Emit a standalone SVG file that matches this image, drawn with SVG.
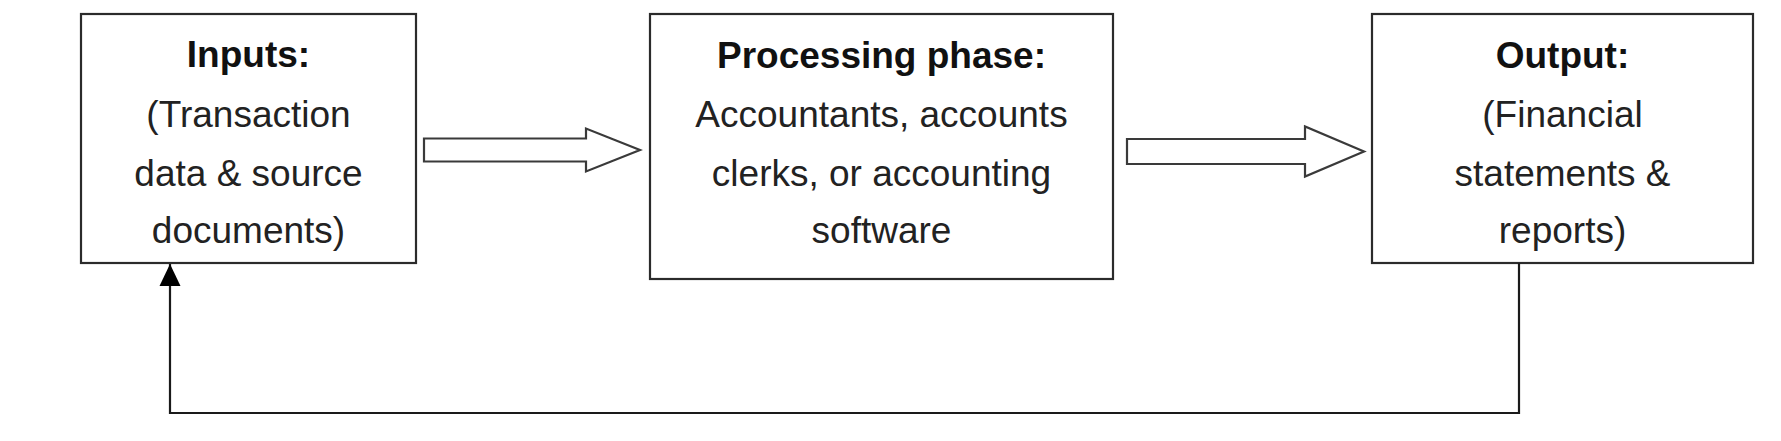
<svg xmlns="http://www.w3.org/2000/svg" width="1781" height="441" viewBox="0 0 1781 441">
  <style>
    .box { fill: #ffffff; stroke: #2b2b2b; stroke-width: 2.2; }
    .txt { font-family: "Liberation Sans", Arial, sans-serif; font-size: 37px; fill: #222222; text-anchor: middle; }
    .bold { font-weight: bold; fill: #111111; }
    .fat { fill: #ffffff; stroke: #3a3a3a; stroke-width: 2.2; stroke-linejoin: miter; }
    .line { fill: none; stroke: #1a1a1a; stroke-width: 2.2; }
  </style>
  <defs>
    <marker id="tri" markerUnits="userSpaceOnUse" markerWidth="24" markerHeight="24" viewBox="0 0 24 24" refX="22" refY="12" orient="auto">
      <path d="M0,1.5 L22,12 L0,22.5 Z" fill="#000000"/>
    </marker>
  </defs>
  <rect x="0" y="0" width="1781" height="441" fill="#ffffff"/>

  <g id="inputs">
    <rect class="box" x="81" y="14" width="335" height="249"/>
    <text class="txt bold" x="248.5" y="67">Inputs:</text>
    <text class="txt" x="248.5" y="127">(Transaction</text>
    <text class="txt" x="248.5" y="186">data &amp; source</text>
    <text class="txt" x="248.5" y="243">documents)</text>
  </g>

  <g id="processing">
    <rect class="box" x="650" y="14" width="463" height="265"/>
    <text class="txt bold" x="881.5" y="68">Processing phase:</text>
    <text class="txt" x="881.5" y="127">Accountants, accounts</text>
    <text class="txt" x="881.5" y="186">clerks, or accounting</text>
    <text class="txt" x="881.5" y="243">software</text>
  </g>

  <g id="output">
    <rect class="box" x="1372" y="14" width="381" height="249"/>
    <text class="txt bold" x="1562.5" y="68">Output:</text>
    <text class="txt" x="1562.5" y="127">(Financial</text>
    <text class="txt" x="1562.5" y="186">statements &amp;</text>
    <text class="txt" x="1562.5" y="243">reports)</text>
  </g>

  <g id="connectors">
    <polygon class="fat" points="424,138.5 586,138.5 586,128.5 640,150 586,171.5 586,161.5 424,161.5"/>
    <polygon class="fat" points="1127,139 1305,139 1305,126.5 1364,151.5 1305,176.5 1305,164 1127,164"/>
    <polyline class="line" points="1519,263 1519,413 170,413 170,264" marker-end="url(#tri)"/>
  </g>
</svg>
